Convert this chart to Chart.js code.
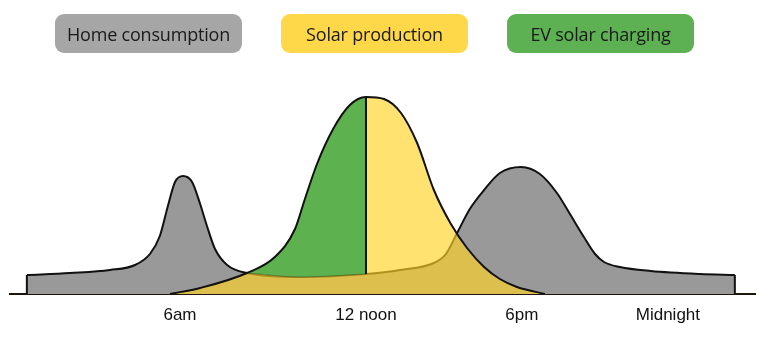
<!DOCTYPE html>
<html>
<head>
<meta charset="utf-8">
<script src="https://cdn.jsdelivr.net/npm/chart.js@4"></script>
<style>
  body { margin: 0; background: #fff; }
  #wrap { position: relative; width: 768px; height: 338px; }
  #legend { position: absolute; top: 14px; left: 55px; display: flex; gap: 39px; }
  .key { width: 187px; height: 39px; border-radius: 9px; box-sizing: border-box; padding-top: 1px;
         font: 18px "Open Sans", sans-serif; letter-spacing: -0.2px; color: #1a1a1a;
         display: flex; align-items: center; justify-content: center; }
</style>
</head>
<body>
<div id="wrap">
  <canvas id="myChart" width="768" height="338"></canvas>
  <div id="legend"></div>
</div>
<script>
var seriesNames = ['Home consumption', 'Solar production', 'EV solar charging'];

var tickLabels = ['6am', '12 noon', '6pm', 'Midnight'];
var tickHours = [6, 12, 17.03, 21.74];

// home consumption over the day
var homeHours = [1.06, 2.45, 3.74, 4.55, 5.03, 5.35, 5.61, 5.84, 6.10, 6.39, 6.65, 6.87, 7.13, 7.52, 8.16, 9.87, 12,
                 13.10, 14.19, 14.58, 14.94, 15.35, 15.81, 16.32, 17.0, 17.61, 18.16, 18.58, 19.03, 19.39, 19.68, 20.19, 21.19, 22.77, 23.9];
var homeLoad = [19, 21, 24, 29, 40, 58, 88, 112, 118, 112, 90, 68, 45, 29, 21, 17, 20,
                24, 31, 40, 61, 85, 104, 121, 127, 120, 101, 80, 57, 40, 32, 27, 23, 20, 19];

// solar production
var solarHours = [5.68, 6.65, 8.16, 9.06, 9.71, 10.03, 10.42, 10.94, 11.48, 12,
                  12.58, 13.13, 13.65, 14.19, 14.74, 15.26, 15.81, 16.32, 16.87, 17.77];
var solarOutput = [0, 6, 21, 37, 65, 95, 130, 165, 189, 197,
                   195, 181, 151, 104, 70, 46, 27, 15, 7, 0];

// EV charges from solar between these hours
var evStart = 8.16;
var evEnd = 12;

var homeFill = '#999999';
var solarFill = 'rgba(255,211,38,0.66)';
var evFill = '#5db14f';
var keyColors = ['#a6a6a6', '#ffd84a', '#5db153'];
var ink = '#111';

// legend boxes
var legend = document.getElementById('legend');
for (var i = 0; i < seriesNames.length; i++) {
    var d = document.createElement('div');
    d.className = 'key';
    d.style.background = keyColors[i];
    d.textContent = seriesNames[i];
    legend.appendChild(d);
}

var home = homeHours.map(function (h, i) { return {x: h, y: homeLoad[i]}; });
var solar = solarHours.map(function (h, i) { return {x: h, y: solarOutput[i]}; });
var ev = home.filter(function (p) { return p.x >= evStart && p.x <= evEnd; });

var first = home[0];
var last = home[home.length - 1];
var evTop = solar.filter(function (p) { return p.x === evEnd; })[0];
var evBottom = ev[ev.length - 1];
// straight vertical sides of the shapes
var edges = [
    {x: first.x, y: 0}, {x: first.x, y: first.y}, {x: first.x, y: null},
    {x: evEnd, y: evBottom.y}, {x: evEnd, y: evTop.y}, {x: evEnd, y: null},
    {x: last.x, y: last.y}, {x: last.x, y: 0}
];

var ctx = document.getElementById('myChart').getContext('2d');
var myChart = new Chart(ctx, {
    type: 'line',
    data: {
        datasets: [{
            label: 'edges',
            data: edges,
            borderColor: ink,
            borderWidth: 2,
            tension: 0,
            fill: false
        }, {
            label: seriesNames[1] + ' outline',
            data: solar,
            borderColor: ink,
            borderWidth: 2,
            cubicInterpolationMode: 'monotone',
            fill: false
        }, {
            label: seriesNames[2],
            data: ev,
            borderColor: 'rgba(0,0,0,0.3)',
            borderWidth: 1,
            cubicInterpolationMode: 'monotone',
            backgroundColor: evFill,
            fill: 3
        }, {
            label: seriesNames[1],
            data: solar,
            borderWidth: 0,
            cubicInterpolationMode: 'monotone',
            backgroundColor: solarFill,
            fill: 'origin'
        }, {
            label: seriesNames[0],
            data: home,
            borderColor: ink,
            borderWidth: 2,
            cubicInterpolationMode: 'monotone',
            backgroundColor: homeFill,
            fill: 'origin'
        }]
    },
    options: {
        responsive: false,
        animation: false,
        events: [],
        elements: { point: { radius: 0 } },
        layout: { padding: { left: 10, right: 13, top: 94, bottom: 0 } },
        plugins: { legend: { display: false }, tooltip: { enabled: false } },
        scales: {
            x: {
                type: 'linear',
                min: 0.516,
                max: 24.55,
                grid: { display: false, drawTicks: false },
                border: { display: true, color: '#1e160c', width: 2 },
                afterBuildTicks: function (axis) {
                    axis.ticks = tickHours.map(function (v) { return {value: v}; });
                },
                afterFit: function (axis) {
                    axis.height = 44;
                },
                ticks: {
                    autoSkip: false,
                    maxRotation: 0,
                    padding: 11,
                    color: '#111',
                    font: { family: '"Liberation Sans", Arial, sans-serif', size: 17 },
                    callback: function (value, index) { return tickLabels[index]; }
                }
            },
            y: {
                display: false,
                min: 0,
                max: 200
            }
        }
    }
});
</script>
</body>
</html>
